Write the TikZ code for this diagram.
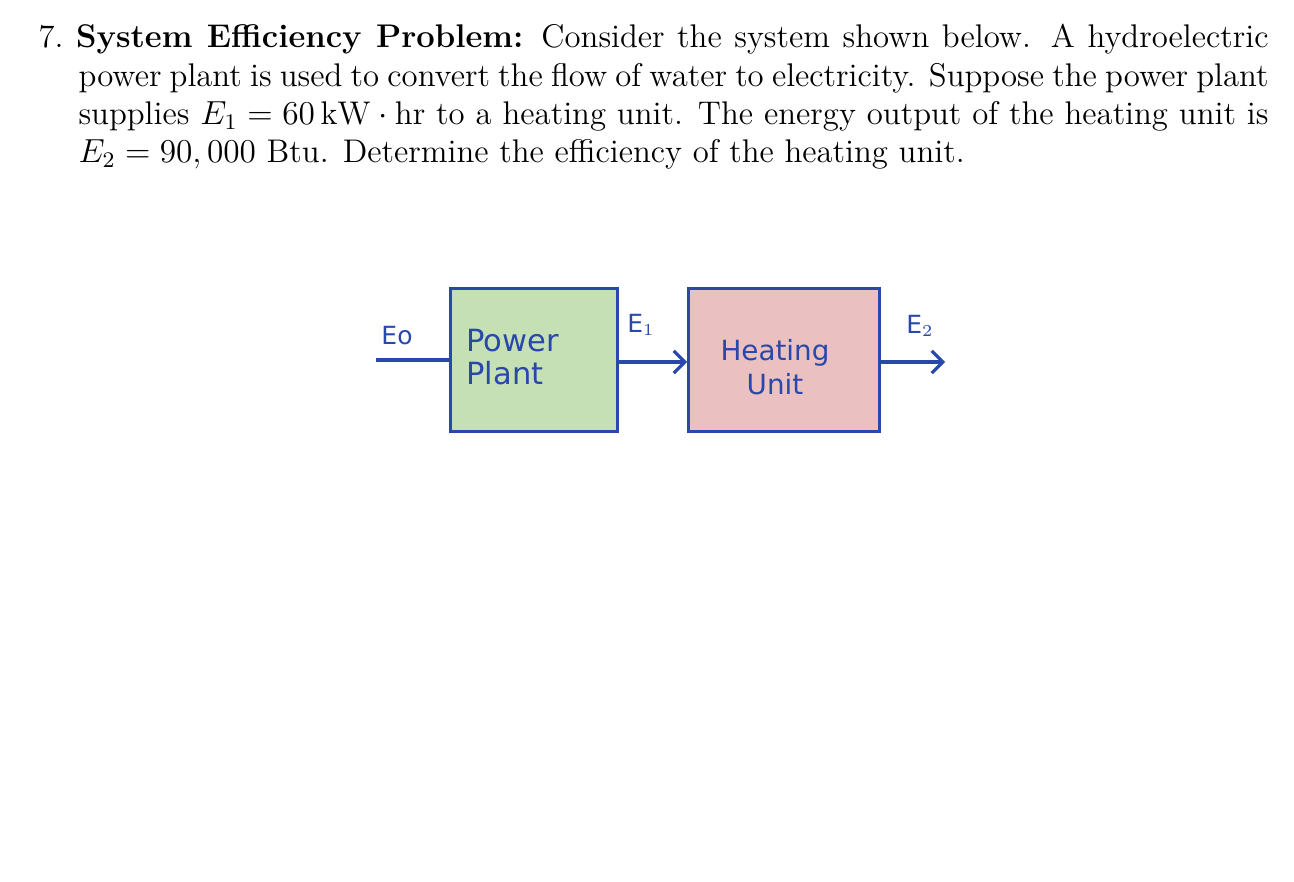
\documentclass[tikz,border=0pt]{standalone}
\usepackage{amsmath}
\usepackage{fontspec}
\usetikzlibrary{arrows.meta}
\newfontfamily\handb{DejaVu Sans}
\definecolor{penblue}{RGB}{40,72,170}
\definecolor{boxgreen}{RGB}{197,224,180}
\definecolor{boxred}{RGB}{234,192,192}
\begin{document}
\begin{tikzpicture}[x=0.36pt,y=-0.36pt,
  blk/.style={draw=penblue,line width=1.2pt},
  flow/.style={draw=penblue,line width=1.1pt,-{Straight Barb[length=4pt]}},
  lab/.style={text=penblue,font=\handb\fontsize{9}{10}\selectfont,inner sep=0pt}]
\useasboundingbox (0,0) rectangle (1294,882);
\node[anchor=north west,inner sep=0pt] (txt) at (38,24) {\parbox{442.8pt}{\fontsize{11.8}{13.7}\selectfont
\hangindent=14.4pt\hangafter=1
7.\ \textbf{System Efficiency Problem:} Consider the system shown below. A hydroelectric\linebreak{} power plant is used to convert the flow of water to electricity. Suppose the power plant\linebreak{} supplies $E_1 = 60\,\mathrm{kW}\cdot\mathrm{hr}$ to a heating unit. The energy output of the heating unit is\linebreak{} $E_2 = 90,000$ Btu. Determine the efficiency of the heating unit.}};
\node[blk,fill=boxgreen,minimum width=167*0.36pt,minimum height=143*0.36pt,anchor=north west,inner sep=0pt] (pp) at (449,287) {};
\node[blk,fill=boxred,minimum width=191*0.36pt,minimum height=143*0.36pt,anchor=north west,inner sep=0pt] (hu) at (687,287) {};
\coordinate (in) at (376,360);
\coordinate (out) at (945,362);
\draw[draw=penblue,line width=1.1pt] (in) -- (in -| pp.west);
\draw[flow] (pp.east |- 0,362) -- (hu.west |- 0,362);
\draw[flow] (hu.east |- 0,362) -- (out);
\node[lab] (e0) at (397,336) {Eo};
\node[lab] (e1) at (641,325) {E$_1$};
\node[lab] (e2) at (920,326) {E$_2$};
\node[lab,align=left,anchor=west,font=\handb\fontsize{11}{12}\selectfont] (ppt) at (466,357) {Power\\Plant};
\node[lab,align=center,font=\handb\fontsize{10}{12}\selectfont] (hut) at (775,367) {Heating\\Unit};
\end{tikzpicture}
\end{document}
